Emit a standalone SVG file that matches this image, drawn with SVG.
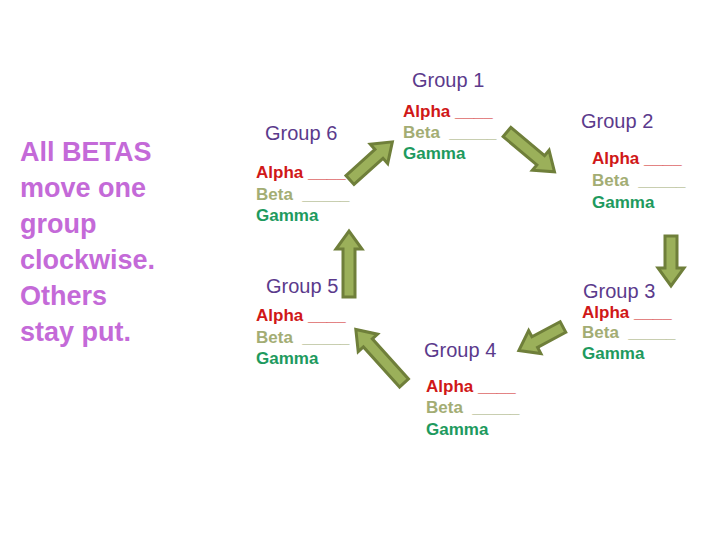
<svg xmlns="http://www.w3.org/2000/svg" width="720" height="540" viewBox="0 0 720 540">
<style>
text{font-family:"Liberation Sans",Arial,sans-serif;white-space:pre}
.g{font-size:20px;fill:#5b3a8c}
.a{font-size:17px;font-weight:bold;fill:#d01818}
.b{font-size:17px;font-weight:bold;fill:#a3ad74}
.c{font-size:17px;font-weight:bold;fill:#1e9a5e}
.l{font-size:27px;font-weight:bold;fill:#c46ad8}
.ar{fill:#9bb05a;stroke:#6f7f3a;stroke-width:3;stroke-linejoin:miter}
</style>
<rect width="720" height="540" fill="#fff"/>
<g id="note">
<text class="l" x="20" y="161">All BETAS</text>
<text class="l" x="20" y="197">move one</text>
<text class="l" x="20" y="233">group</text>
<text class="l" x="20" y="269">clockwise.</text>
<text class="l" x="20" y="305">Others</text>
<text class="l" x="20" y="341">stay put.</text>
</g>
<g id="group1"><text class="g" x="412" y="87">Group 1</text><text class="a" x="403" y="117">Alpha ____</text><text class="b" x="403" y="138">Beta  _____</text><text class="c" x="403" y="159">Gamma</text></g>
<g id="group2"><text class="g" x="581" y="128">Group 2</text><text class="a" x="592" y="164">Alpha ____</text><text class="b" x="592" y="186">Beta  _____</text><text class="c" x="592" y="208">Gamma</text></g>
<g id="group3"><text class="g" x="583" y="298">Group 3</text><text class="a" x="582" y="318">Alpha ____</text><text class="b" x="582" y="338">Beta  _____</text><text class="c" x="582" y="359">Gamma</text></g>
<g id="group4"><text class="g" x="424" y="357">Group 4</text><text class="a" x="426" y="392">Alpha ____</text><text class="b" x="426" y="413">Beta  _____</text><text class="c" x="426" y="435">Gamma</text></g>
<g id="group5"><text class="g" x="266" y="293">Group 5</text><text class="a" x="256" y="321">Alpha ____</text><text class="b" x="256" y="343">Beta  _____</text><text class="c" x="256" y="364">Gamma</text></g>
<g id="group6"><text class="g" x="265" y="140">Group 6</text><text class="a" x="256" y="178">Alpha ____</text><text class="b" x="256" y="200">Beta  _____</text><text class="c" x="256" y="221">Gamma</text></g>
<g id="connectors">
<polygon class="ar" transform="translate(350,180) rotate(-42)" points="0,-6 39,-6 39,-13 57,0 39,13 39,6 0,6"/>
<polygon class="ar" transform="translate(507,132) rotate(40)" points="0,-6 44,-6 44,-13 62,0 44,13 44,6 0,6"/>
<polygon class="ar" transform="translate(671,236) rotate(90)" points="0,-6 32,-6 32,-13 50,0 32,13 32,6 0,6"/>
<polygon class="ar" transform="translate(563,327) rotate(152)" points="0,-6 32,-6 32,-13 50,0 32,13 32,6 0,6"/>
<polygon class="ar" transform="translate(404,383) rotate(-132)" points="0,-6 54,-6 54,-13 72,0 54,13 54,6 0,6"/>
<polygon class="ar" transform="translate(349,297) rotate(-90)" points="0,-6 48,-6 48,-13 66,0 48,13 48,6 0,6"/>
</g>
</svg>
